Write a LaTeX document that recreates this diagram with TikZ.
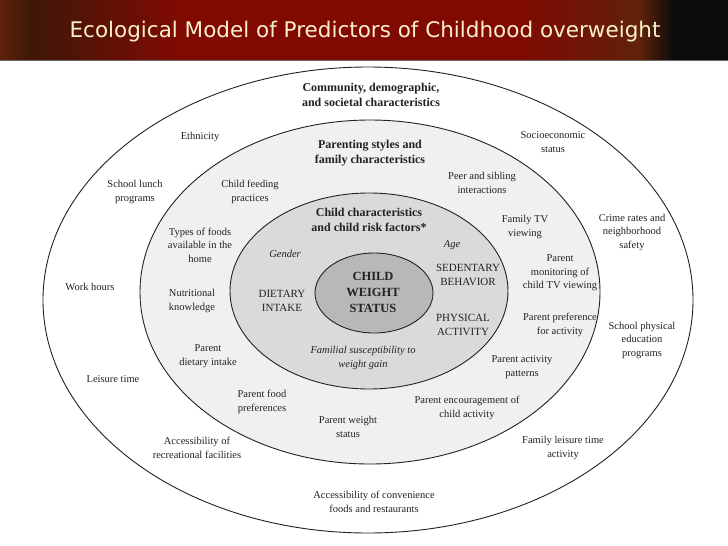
\documentclass[tikz,border=0pt]{standalone}
\usepackage{fontspec}
\setmainfont{Liberation Serif}
\newfontfamily\titlefont{DejaVu Sans}
\usepackage{tikz}
\definecolor{barred}{RGB}{128,10,2}
\definecolor{bardark}{RGB}{62,24,8}
\definecolor{barbrown}{RGB}{96,34,10}
\definecolor{titlecream}{RGB}{250,240,200}
\definecolor{ringA}{RGB}{240,240,240}
\definecolor{ringB}{RGB}{218,218,218}
\definecolor{ringC}{RGB}{184,184,184}
\definecolor{ink}{RGB}{34,34,34}
\tikzset{
    ring/.style={draw=ink, line width=0.9pt},
    factor/.style={align=center, text=ink, inner sep=1pt, font=\fontsize{10.5}{13.5}\selectfont},
    childfactor/.style={factor, font=\fontsize{11}{14}\selectfont},
    riskfactor/.style={factor, font=\fontsize{10.5}{13.5}\selectfont\itshape},
    ringhead/.style={align=center, text=ink, inner sep=1pt, font=\fontsize{12}{15}\selectfont\bfseries},
    corehead/.style={ringhead, font=\fontsize{12.5}{16}\selectfont\bfseries},
}

\begin{document}
\begin{tikzpicture}[x=1pt,y=-1pt]
  \useasboundingbox (0,0) rectangle (728,546);
  \fill[white] (0,0) rectangle (728,546);

  % title bar
  \shade[left color=barbrown, right color=bardark] (0,0) rectangle (30,60);
  \shade[left color=bardark, right color=barred] (30,0) rectangle (180,60);
  \fill[barred] (180,0) rectangle (520,60);
  \shade[left color=barred, right color=barbrown] (520,0) rectangle (640,60);
  \shade[left color=barbrown, right color=black!95] (640,0) rectangle (672,60);
  \fill[black!95] (672,0) rectangle (728,60);
  \draw[black!60, line width=1pt] (0,60.5) -- (728,60.5);
  \node[text=titlecream, font=\titlefont\fontsize{21.5}{24}\selectfont] (title) at (365,32)
    {Ecological Model of Predictors of Childhood overweight};

  % nested levels
  \draw[ring, fill=white] (368,300) ellipse (325 and 233);
  \draw[ring, fill=ringA] (370,292) ellipse (230 and 172);
  \draw[ring, fill=ringB] (369,291) ellipse (139 and 98);
  \draw[ring, fill=ringC] (374,293) ellipse (59 and 40);

  % level headings
  \node[ringhead] (community) at (371,95) {Community, demographic,\\and societal characteristics};
  \node[ringhead] (parenting) at (370,153) {Parenting styles and\\family characteristics};
  \node[ringhead] (childchar) at (369,220) {Child characteristics\\and child risk factors*};
  \node[corehead] (weight) at (373,292) {CHILD\\WEIGHT\\STATUS};

  % child level
  \node[riskfactor] (gender) at (285,254) {Gender};
  \node[riskfactor] (age) at (452,245) {Age};
  \node[childfactor] (diet) at (282,301) {DIETARY\\INTAKE};
  \node[childfactor] (sed) at (468,275) {SEDENTARY\\BEHAVIOR};
  \node[childfactor] (phys) at (463,325) {PHYSICAL\\ACTIVITY};
  \node[riskfactor] (famsus) at (363,358) {Familial susceptibility to\\weight gain};

  % family level
  \node[factor] (feed) at (250,192) {Child feeding\\practices};
  \node[factor] (foods) at (200,245) {Types of foods\\available in the\\home};
  \node[factor] (nutri) at (192,301) {Nutritional\\knowledge};
  \node[factor] (pdiet) at (208,356) {Parent\\dietary intake};
  \node[factor] (pfood) at (262,402) {Parent food\\preferences};
  \node[factor] (pweight) at (348,427) {Parent weight\\status};
  \node[factor] (penc) at (467,408) {Parent encouragement of\\child activity};
  \node[factor] (pact) at (522,367) {Parent activity\\patterns};
  \node[factor] (ppref) at (560,325) {Parent preference\\for activity};
  \node[factor] (monit) at (560,273) {Parent\\monitoring of\\child TV viewing};
  \node[factor] (famtv) at (525,227) {Family TV\\viewing};
  \node[factor] (peer) at (482,183) {Peer and sibling\\interactions};

  % community level
  \node[factor] (eth) at (200,137) {Ethnicity};
  \node[factor] (lunch) at (135,192) {School lunch\\programs};
  \node[factor] (work) at (90,287) {Work hours};
  \node[factor] (leisure) at (113,379) {Leisure time};
  \node[factor] (recr) at (197,448) {Accessibility of\\recreational facilities};
  \node[factor] (conv) at (374,502) {Accessibility of convenience\\foods and restaurants};
  \node[factor] (famleis) at (563,448) {Family leisure time\\activity};
  \node[factor] (school) at (642,340) {School physical\\education\\programs};
  \node[factor] (crime) at (632,232) {Crime rates and\\neighborhood\\safety};
  \node[factor] (socio) at (553,142) {Socioeconomic\\status};
\end{tikzpicture}
\end{document}
